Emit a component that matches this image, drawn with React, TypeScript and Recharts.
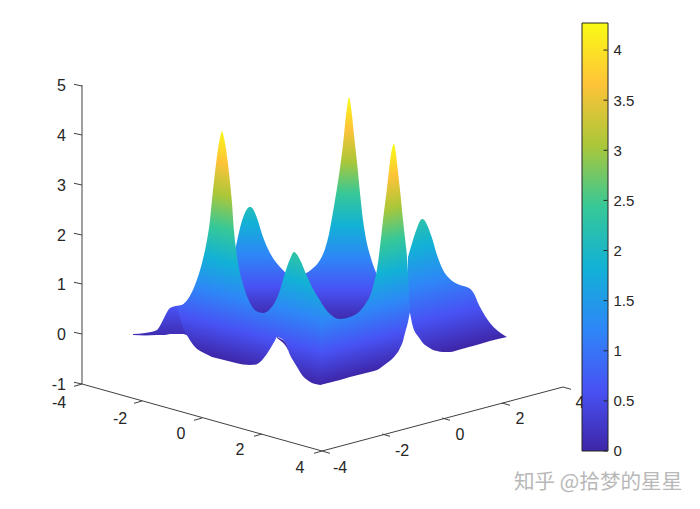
import React from "react";
import { Area, Bar, ComposedChart, ReferenceLine, Scatter, XAxis, YAxis } from "recharts";

// surface outline, rows are [view x, upper edge, lower edge]
const backLeftPeak = [
  [230, 270, 330], [236, 246, 330], [240, 228, 330], [244, 215, 330], [247, 209, 330], [250, 207, 330], [253, 209, 330],
  [257, 218, 330], [263, 237, 330], [270, 253, 330], [280, 267, 330], [287, 274, 330], [297, 280, 330],
];
const backCentralPeak = [
  [297, 280, 330], [305, 274, 330], [312, 269, 330], [320, 260, 330], [325, 249, 330], [329, 234, 330],
  [333, 212, 330], [337, 188, 330], [340, 168, 330], [342, 153, 330], [344, 135, 330], [346, 115, 330],
  [347.5, 104, 330], [349, 97, 330], [350.5, 104, 330], [352, 115, 330], [354, 135, 330], [356, 153, 330],
  [358, 172, 330], [360, 193, 330], [363, 220, 330], [366, 239, 330], [370, 255, 330], [375, 270, 330], [380, 280, 330],
];
const rightShoulder = [
  [408, 257, 300], [410, 250, 313], [413, 240, 327], [417, 228, 335], [420, 221, 339], [422, 219, 342],
  [425, 221, 345], [428, 227, 347], [432, 238, 349.5], [437, 255, 351], [443, 270, 352], [450, 279, 352],
  [460, 285, 349.5], [469, 288, 347], [473, 292, 346], [480, 307, 344], [490, 323, 341], [498, 331, 339],
  [507, 337, 337],
];
const leftWing = [
  [133, 334, 335], [145, 333, 335.5], [157, 330, 335], [161, 324, 335], [165, 316, 335], [170, 308, 334],
  [176, 306, 334], [182, 305, 334], [188, 300, 336], [192, 293, 342],
];
const frontLeft = [
  [178, 307, 310], [182, 305, 325], [188, 299, 337], [195, 285, 347], [202, 263, 352], [207, 240, 354.5],
  [210, 220, 356], [212, 200, 357], [214, 181, 357.5], [216, 164, 358], [218, 149, 358.5], [220, 138, 359], [222, 131, 359.5],
  [224, 138, 360], [226, 149, 360.5], [228, 164, 361], [230, 182, 361.5], [232, 203, 362], [234, 231, 362.5], [236, 249, 363],
  [238, 263, 363.5], [243, 284, 364.5], [250, 303, 365], [256, 311, 364.5], [263, 313, 359], [270, 309, 349],
  [275, 302, 340.5], [277, 298, 337], [280, 290, 338], [285, 273, 342], [290, 259, 355], [294, 252, 362],
  [298, 256, 368.5], [302, 264, 375], [306, 274, 379], [312, 287, 383], [321, 302, 385],
];
const frontRight = [
  [320, 301, 385], [330, 314, 382.5], [340, 319, 380], [350, 317, 377], [360, 311, 374.5], [366, 303, 373],
  [370, 296, 372], [374, 283, 371], [377, 269, 370], [379, 255, 369], [381, 238, 367.5], [383, 220, 366],
  [385, 204, 364.5], [387, 188, 363], [389, 170, 361.5], [391, 154, 360], [394, 144, 357], [396, 154, 354.5], [398, 172, 352],
  [400, 190, 348], [403, 220, 341], [405, 238, 333], [407, 257, 326], [408, 272, 322], [409, 290, 317],
  [410, 312, 312],
];
const darkWedge = [[277, 337, 338], [281, 339, 341], [285, 342, 345], [288, 349, 350]];

// axis box, in view coordinates
const zAxisLine = [[82, 85], [82, 384]];
const xAxisLine = [[82, 384], [322, 451]];
const yAxisLine = [[322, 451], [563, 387]];
const zTicks = [[82, 86], [82, 135], [82, 185], [82, 235], [82, 284], [82, 334], [82, 384]];
const xTicks = [[82, 384], [142, 401], [202, 418], [262, 434], [322, 451]];
const yTicks = [[322, 451], [382, 434], [442, 418], [502, 403], [563, 387]];

const zLabels = [
  { h: 66, v: 85, text: "5" }, { h: 66, v: 135, text: "4" }, { h: 66, v: 185, text: "3" }, { h: 66, v: 235, text: "2" },
  { h: 66, v: 284, text: "1" }, { h: 66, v: 334, text: "0" }, { h: 66, v: 384, text: "-1" },
];
const xLabels = [
  { h: 59, v: 402, text: "-4" }, { h: 120, v: 418, text: "-2" }, { h: 181, v: 433, text: "0" },
  { h: 240, v: 449, text: "2" }, { h: 300, v: 467, text: "4" },
];
const yLabels = [
  { h: 340, v: 467, text: "-4" }, { h: 402, v: 450, text: "-2" }, { h: 460, v: 434, text: "0" },
  { h: 520, v: 418, text: "2" }, { h: 580, v: 402, text: "4" },
];

const colorbarTop = [{ name: "z", value: 4.27 }];
const colorbarTicks = [0, 0.5, 1, 1.5, 2, 2.5, 3, 3.5, 4];
const parula = ["#3e26a8", "#4852f4", "#2e87f7", "#12b1d6", "#37c897", "#abc739", "#fec338", "#f9fb15"];

const toRows = (layer: number[][]) => layer.map(([h, top, bottom]) => ({ h, band: [top, bottom] }));

const ParulaGradient = ({ id, from, to }: { id: string; from: number[]; to: number[] }) => (
  <linearGradient id={id} gradientUnits="userSpaceOnUse" x1={from[0]} y1={from[1]} x2={to[0]} y2={to[1]}>
    {parula.map((c, i) => (
      <stop key={i} offset={i / (parula.length - 1)} stopColor={c} />
    ))}
  </linearGradient>
);

const PlotText = ({ cx, cy, payload, anchor }: any) => (
  <text x={cx} y={cy} textAnchor={anchor} dominantBaseline="central" fontSize={16} fontFamily="Liberation Sans" fill="#262626">
    {payload.text}
  </text>
);

const layers = [
  { key: "backLeft", rows: backLeftPeak, grad: "gBack" },
  { key: "backCentral", rows: backCentralPeak, grad: "gCentral" },
  { key: "rightShoulder", rows: rightShoulder, grad: "gShoulder" },
  { key: "wing", rows: leftWing, grad: "gWing" },
  { key: "frontLeft", rows: frontLeft, grad: "gFrontLeft" },
  { key: "frontRight", rows: frontRight, grad: "gFrontRight" },
  { key: "wedge", rows: darkWedge, grad: "gWing" },
];

const tickLine = (p: number[], dh: number, dv: number, key: string) => (
  <ReferenceLine
    key={key}
    segment={[{ x: p[0], y: p[1] }, { x: p[0] + dh, y: p[1] + dv }]}
    stroke="#404040"
    ifOverflow="visible"
  />
);

const axisLine = (l: number[][], key: string) => (
  <ReferenceLine
    key={key}
    segment={[{ x: l[0][0], y: l[0][1] }, { x: l[1][0], y: l[1][1] }]}
    stroke="#404040"
    ifOverflow="visible"
  />
);

export default function App() {
  return (
    <div style={{ position: "absolute", left: 0, top: 0, width: 700, height: 509, background: "#fff" }}>
      <div style={{ position: "absolute", left: 0, top: 0 }}>
        <ComposedChart width={700} height={509} margin={{ top: 0, right: 0, bottom: 0, left: 0 }}>
          <defs>
            <ParulaGradient id="gBack" from={[0, 318]} to={[0, 96]} />
            <ParulaGradient id="gCentral" from={[0, 322]} to={[0, 97]} />
            <ParulaGradient id="gShoulder" from={[440, 354]} to={[378, 106]} />
            <ParulaGradient id="gWing" from={[0, 340]} to={[0, 110]} />
            <ParulaGradient id="gFrontLeft" from={[320, 385]} to={[376, 169]} />
            <ParulaGradient id="gFrontRight" from={[320, 385]} to={[266, 177]} />
          </defs>
          <XAxis type="number" dataKey="h" domain={[0, 700]} hide allowDataOverflow />
          <YAxis type="number" domain={[0, 509]} reversed hide allowDataOverflow />

          {axisLine(zAxisLine, "zLine")}
          {axisLine(xAxisLine, "xLine")}
          {axisLine(yAxisLine, "yLine")}
          {zTicks.map((p, i) => tickLine(p, -8, -1.7, `z${i}`))}
          {xTicks.map((p, i) => tickLine(p, -8, 2.3, `x${i}`))}
          {yTicks.map((p, i) => tickLine(p, 8, 2.3, `y${i}`))}

          {layers.map((l) => (
            <Area
              key={l.key}
              data={toRows(l.rows)}
              dataKey="band"
              type="monotone"
              stroke="none"
              fill={`url(#${l.grad})`}
              fillOpacity={1}
              dot={false}
              activeDot={false}
              isAnimationActive={false}
            />
          ))}

          <Scatter data={zLabels} dataKey="v" shape={<PlotText anchor="end" />} isAnimationActive={false} />
          <Scatter data={xLabels} dataKey="v" shape={<PlotText anchor="middle" />} isAnimationActive={false} />
          <Scatter data={yLabels} dataKey="v" shape={<PlotText anchor="middle" />} isAnimationActive={false} />
        </ComposedChart>
      </div>

      <div style={{ position: "absolute", left: 0, top: 0 }}>
        <ComposedChart
          width={700}
          height={509}
          data={colorbarTop}
          barCategoryGap={0}
          margin={{ top: 23, right: 32.5, bottom: 58, left: 582 }}
        >
          <defs>
            <linearGradient id="gColorbar" x1="0" y1="1" x2="0" y2="0">
              {parula.map((c, i) => (
                <stop key={i} offset={i / (parula.length - 1)} stopColor={c} />
              ))}
            </linearGradient>
          </defs>
          <XAxis dataKey="name" hide />
          <YAxis
            orientation="right"
            width={60}
            domain={[0, 4.27]}
            ticks={colorbarTicks}
            interval={0}
            axisLine={false}
            tickSize={-4}
            tickMargin={10}
            tick={{ fill: "#262626", fontSize: 15, fontFamily: "Liberation Sans", textAnchor: "start" }}
            tickLine={{ stroke: "#262626" }}
          />
          <Bar dataKey="value" fill="url(#gColorbar)" stroke="#262626" strokeWidth={1} isAnimationActive={false} />
        </ComposedChart>
      </div>

      <div
        style={{
          position: "absolute",
          left: 514,
          top: 468,
          fontFamily: "Noto Sans CJK SC",
          fontSize: 20.6,
          lineHeight: "24px",
          color: "#b8b8b8",
          whiteSpace: "nowrap",
        }}
      >
        知乎 @拾梦的星星
      </div>
    </div>
  );
}
